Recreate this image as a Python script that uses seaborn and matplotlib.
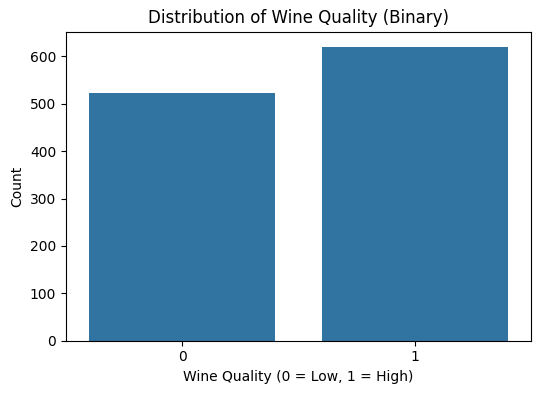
import matplotlib
matplotlib.use("Agg")
import matplotlib.pyplot as plt
import seaborn as sns
import pandas as pd

categories = ["0", "1"]
counts = [522, 621]

df = pd.DataFrame({"quality": categories, "count": counts})

fig = plt.figure(figsize=(5.4, 3.93), dpi=100)
ax = fig.add_axes([0.122, 0.133, 0.861, 0.786])
sns.barplot(data=df, x="quality", y="count", ax=ax)
ax.set_title("Distribution of Wine Quality (Binary)")
ax.set_xlabel("Wine Quality (0 = Low, 1 = High)")
ax.set_ylabel("Count")
fig.savefig("out.png", dpi=100)
